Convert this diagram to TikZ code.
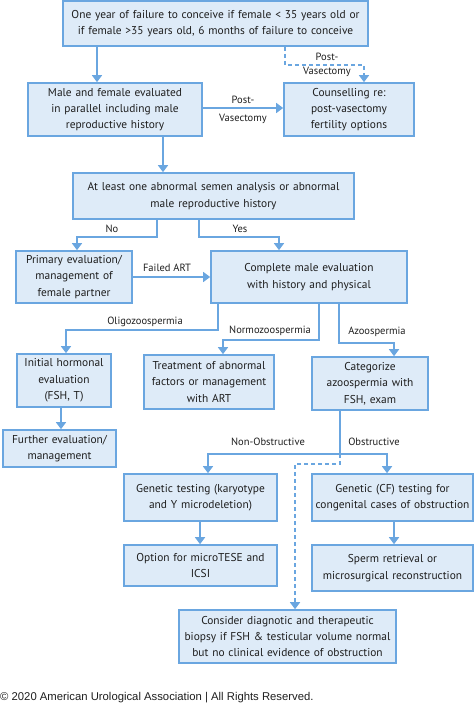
\documentclass[tikz,border=0pt]{standalone}
\usepackage{fontspec}
\setmainfont{PT Sans}
\newfontfamily\cfont{Liberation Sans}
\usetikzlibrary{arrows.meta}
\definecolor{bline}{RGB}{106,166,224}
\definecolor{bfill}{RGB}{222,235,248}
\definecolor{txt}{RGB}{30,30,30}
\tikzset{
  box/.style={draw=bline, fill=bfill, line width=1.6pt, inner sep=0pt, align=center,
    font=\fontsize{11.4}{16.3}\selectfont, text=txt},
  conn/.style={draw=bline, line width=1.6pt, -{Triangle[width=10pt,length=7pt]}},
  plain/.style={draw=bline, line width=1.6pt},
  dconn/.style={conn, dash pattern=on 4pt off 3pt},
  dplain/.style={plain, dash pattern=on 4pt off 3pt},
  lab/.style={font=\fontsize{10.5}{13}\selectfont, text=txt, inner sep=0pt, align=center},
}
\newcommand{\bx}[6]{% name, x1, y1, x2, y2, text
  \node[box, minimum width=#4pt-#2pt, minimum height=#5pt-#3pt, text width=#4pt-#2pt-2pt] (#1) at ({(#2+#4)/2},{(#3+#5)/2}) {#6};}
\begin{document}
\begin{tikzpicture}[x=1pt,y=-1pt]
\useasboundingbox (0,0) rectangle (474,704);
\bx{b1}{63}{1}{368}{46}{One year of failure to conceive if female < 35 years old or\\if female >35 years old, 6 months of failure to conceive}
\bx{b2}{28}{83}{202}{136}{Male and female evaluated\\in parallel including male\\reproductive history}
\bx{b3}{284}{83}{414}{136}{Counselling re:\\post-vasectomy\\fertility options}
\bx{b4}{73}{173}{354}{219}{At least one abnormal semen analysis or abnormal\\male reproductive history}
\bx{b5}{16}{251}{132}{303}{Primary evaluation/\\management of\\female partner}
\bx{b6}{211}{251}{407}{303}{Complete male evaluation\\with history and physical}
\bx{b7}{17}{354}{111}{407}{Initial hormonal\\evaluation\\(FSH, T)}
\bx{b8}{144}{355}{274}{409}{Treatment of abnormal\\factors or management\\with ART}
\bx{b9}{312}{357}{428}{410}{Categorize\\azoospermia with\\FSH, exam}
\bx{b10}{3}{430}{116}{467}{Further evaluation/\\management}
\bx{b11}{124}{474}{277}{521}{Genetic testing (karyotype\\and Y microdeletion)}
\bx{b12}{312}{474}{473}{521}{Genetic (CF) testing for\\congenital cases of obstruction}
\bx{b13}{124}{545}{277}{586}{Option for microTESE and\\ICSI}
\bx{b14}{312}{545}{473}{591}{Sperm retrieval or\\microsurgical reconstruction}
\bx{b15}{179}{610}{396}{663}{Consider diagnotic and therapeutic\\biopsy if FSH \& testicular volume normal\\but no clinical evidence of obstruction}

% top connectors
\draw[conn] (b1.south -| 97,0) -- (b2.north -| 97,0);
\draw[dconn] (b1.south -| 285,0) -- (285,65) -- (364,65) -- (b3.north -| 364,0);
\node[lab] (l1) at (327,57) {Post-};
\node[lab] (l2) at (327,72) {Vasectomy};
\draw[conn] (b2.east |- 0,108) -- (b3.west |- 0,108);
\node[lab] (l3) at (243,100) {Post-};
\node[lab] (l4) at (243,119) {Vasectomy};
\draw[conn] (b2.south -| 163,0) -- (b4.north -| 163,0);

% no / yes
\draw[conn] (b4.south -| 157,0) -- (157,237) -- (77,237) -- (b5.north -| 77,0);
\node[lab] (l5) at (112,229) {No};
\draw[conn] (b4.south -| 199,0) -- (199,237) -- (279,237) -- (b6.north -| 279,0);
\node[lab] (l6) at (240,229) {Yes};
\draw[conn] (b5.east |- 0,277) -- (b6.west |- 0,277);
\node[lab] (l7) at (167,268) {Failed ART};

% three branches
\draw[conn] (b6.south -| 218,0) -- (218,330) -- (66,330) -- (b7.north -| 66,0);
\node[lab] (l8) at (145,322) {Oligozoospermia};
\draw[conn] (b6.south -| 319,0) -- (319,340) -- (223,340) -- (b8.north -| 223,0);
\node[lab] (l9) at (270,331) {Normozoospermia};
\draw[conn] (b6.south -| 339,0) -- (339,343) -- (394,343) -- (b9.north -| 394,0);
\node[lab] (l10) at (377,332) {Azoospermia};
\draw[conn] (b7.south -| 61,0) -- (b10.north -| 61,0);

% azoospermia split
\coordinate (sp) at (340,454);
\draw[plain] (b9.south -| sp) -- (sp);
\draw[conn] (sp) -- (208,454) -- (b11.north -| 208,0);
\draw[conn] (sp) -- (387,454) -- (b12.north -| 387,0);
\node[lab] (l11) at (268,442) {Non-Obstructive};
\node[lab] (l12) at (374,442) {Obstructive};
\draw[dconn] (sp) -- (340,464) -- (295,464) -- (b15.north -| 295,0);
\draw[conn] (b11.south -| 200,0) -- (b13.north -| 200,0);
\draw[conn] (b12.south -| 394,0) -- (b14.north -| 394,0);

\node[font=\cfont\fontsize{11.3}{13}\selectfont, text=txt, anchor=west, inner sep=0pt] (copy) at (0,698) {© 2020 American Urological Association | All Rights Reserved.};
\end{tikzpicture}
\end{document}
